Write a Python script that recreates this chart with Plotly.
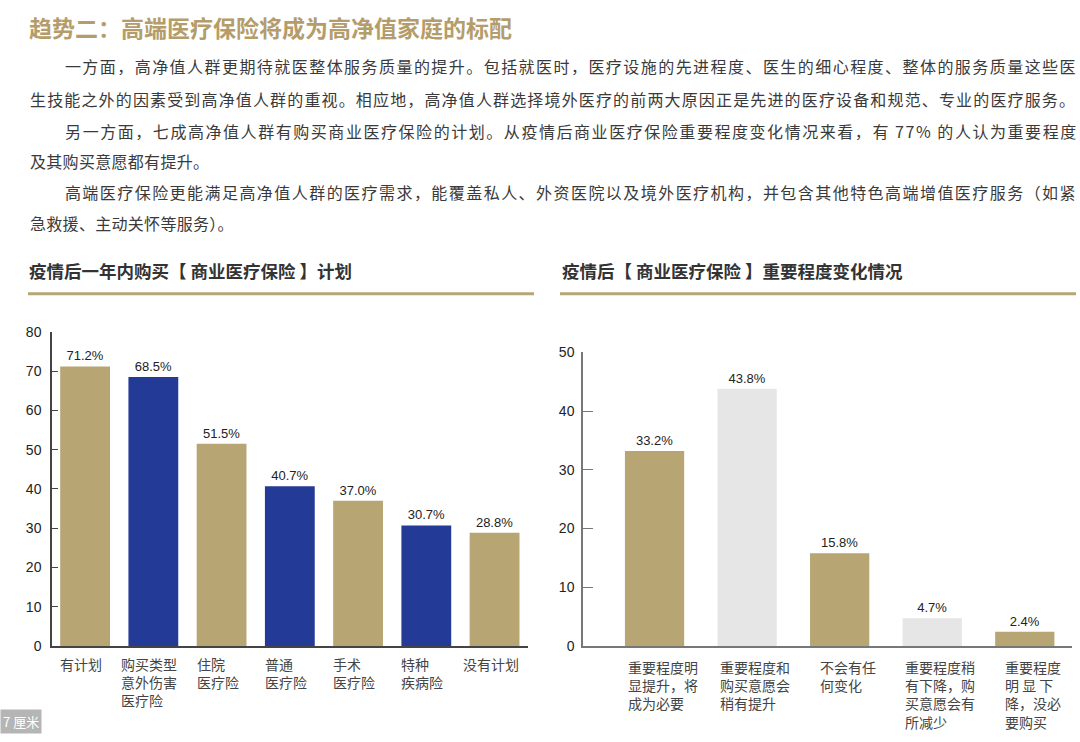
import plotly.graph_objects as go

# ---------------- data ----------------
page_title = "趋势二：高端医疗保险将成为高净值家庭的标配"
paragraph_lines = [
    "\u3000\u3000一方面，高净值人群更期待就医整体服务质量的提升。包括就医时，医疗设施的先进程度、医生的细心程度、整体的服务质量这些医",
    "生技能之外的因素受到高净值人群的重视。相应地，高净值人群选择境外医疗的前两大原因正是先进的医疗设备和规范、专业的医疗服务。",
    "\u3000\u3000另一方面，七成高净值人群有购买商业医疗保险的计划。从疫情后商业医疗保险重要程度变化情况来看，有 77% 的人认为重要程度",
    "及其购买意愿都有提升。",
    "\u3000\u3000高端医疗保险更能满足高净值人群的医疗需求，能覆盖私人、外资医院以及境外医疗机构，并包含其他特色高端增值医疗服务（如紧",
    "急救援、主动关怀等服务）。",
]

left_title = "疫情后一年内购买【 商业医疗保险 】计划"
left_categories = ["有计划", "购买类型意外伤害医疗险", "住院医疗险", "普通医疗险", "手术医疗险", "特种疾病险", "没有计划"]
left_tick_labels = ["有计划", "购买类型<br>意外伤害<br>医疗险", "住院<br>医疗险", "普通<br>医疗险",
                    "手术<br>医疗险", "特种<br>疾病险", "没有计划"]
left_values = [71.2, 68.5, 51.5, 40.7, 37.0, 30.7, 28.8]
left_ticks = [0, 10, 20, 30, 40, 50, 60, 70, 80]

right_title = "疫情后【 商业医疗保险 】重要程度变化情况"
right_categories = ["重要程度明显提升", "重要程度和购买意愿会稍有提升", "不会有任何变化",
                    "重要程度稍有下降", "重要程度明显下降"]
right_tick_labels = ["重要程度明<br>显提升，将<br>成为必要", "重要程度和<br>购买意愿会<br>稍有提升",
                     "不会有任<br>何变化", "重要程度稍<br>有下降，购<br>买意愿会有<br>所减少",
                     "重要程度<br>明 显 下<br>降，没必<br>要购买"]
right_values = [33.2, 43.8, 15.8, 4.7, 2.4]
right_ticks = [0, 10, 20, 30, 40, 50]

footer_text = "7 厘米"

# ---------------- styles ----------------
W, H = 1080, 742
TAN = "#b8a574"
BLUE = "#233a96"
LIGHT = "#e6e6e6"
TEXT = "#333333"
CJK = "Noto Sans CJK SC"
LAT = "Liberation Sans, Arial"

def py(p):
    return 1 - p / H

def px(p):
    return p / W

left_colors = [TAN if i % 2 == 0 else BLUE for i in range(len(left_values))]
right_colors = [TAN if i % 2 == 0 else LIGHT for i in range(len(right_values))]

fig = go.Figure()

fig.add_trace(go.Bar(
    x=left_categories, y=left_values, marker=dict(color=left_colors, line=dict(width=0)),
    width=0.73, text=[f"{v:.1f}%" for v in left_values], textposition="outside",
    textfont=dict(family=LAT, size=13, color="#222"), cliponaxis=False,
    xaxis="x", yaxis="y", showlegend=False, hoverinfo="skip",
))
fig.add_trace(go.Bar(
    x=right_categories, y=right_values, marker=dict(color=right_colors, line=dict(width=0)),
    width=0.64, text=[f"{v:.1f}%" for v in right_values], textposition="outside",
    textfont=dict(family=LAT, size=13, color="#222"), cliponaxis=False,
    xaxis="x2", yaxis="y2", showlegend=False, hoverinfo="skip",
))

axis_common = dict(showgrid=False, zeroline=False, fixedrange=True)

fig.update_layout(
    width=W, height=H, margin=dict(l=0, r=0, t=0, b=0),
    paper_bgcolor="white", plot_bgcolor="white",
    xaxis=dict(domain=[px(52), px(528)], range=[-0.485, 6.49], type="category",
               showticklabels=False, ticks="", showline=True, linecolor="#444", linewidth=1.5,
               anchor="y", **axis_common),
    yaxis=dict(domain=[py(652), py(331)], range=[0, 80], tickvals=left_ticks,
               ticks="inside", ticklen=6, tickcolor="#444", tickwidth=1.2,
               showline=True, linecolor="#444", linewidth=1.5, anchor="x",
               tickfont=dict(family=LAT, size=14, color="#222"), ticklabelstandoff=6,
               **axis_common),
    xaxis2=dict(domain=[px(583), px(1072)], range=[-0.773, 4.51], type="category",
                showticklabels=False, ticks="", showline=True, linecolor="#777", linewidth=1.5,
                anchor="y2", **axis_common),
    yaxis2=dict(domain=[py(652), py(352)], range=[0, 50], tickvals=right_ticks,
                ticks="inside", ticklen=10, tickcolor="#777", tickwidth=1.2,
                showline=True, linecolor="#777", linewidth=1.5, anchor="x2",
                tickfont=dict(family=LAT, size=14, color="#222"), ticklabelstandoff=4,
                **axis_common),
)

ann = []
# page title
ann.append(dict(text=f"<b>{page_title}</b>", x=px(27), y=py(19), xref="paper", yref="paper",
                xanchor="left", yanchor="middle", showarrow=False,
                font=dict(family=CJK, size=23, color="#b49d6a")))
# paragraph
para_y = [59, 93, 126, 156, 188, 220]
para_spacing = [1.45, 1.15, 1.55, 0.3, 1.45, 0.3]
for line, yy, sp in zip(paragraph_lines, para_y, para_spacing):
    ann.append(dict(text=f'<span style="letter-spacing:{sp}px">{line}</span>', x=px(28), y=py(yy),
                    xref="paper", yref="paper", xanchor="left", yanchor="middle",
                    showarrow=False, font=dict(family=CJK, size=16, color="#3a3a3a")))
# section titles
ann.append(dict(text=f"<b>{left_title}</b>", x=px(27), y=py(268), xref="paper", yref="paper",
                xanchor="left", yanchor="middle", showarrow=False,
                font=dict(family=CJK, size=17.5, color=TEXT)))
ann.append(dict(text=f"<b>{right_title}</b>", x=px(560), y=py(268), xref="paper", yref="paper",
                xanchor="left", yanchor="middle", showarrow=False,
                font=dict(family=CJK, size=17.5, color=TEXT)))
# category labels
for c, lab in zip(left_categories, left_tick_labels):
    ann.append(dict(text=lab, x=c, y=0, xref="x", yref="y", xanchor="center", yanchor="top",
                    yshift=-6, xshift=-4, align="left", showarrow=False,
                    font=dict(family=CJK, size=14, color="#444")))
for c, lab in zip(right_categories, right_tick_labels):
    ann.append(dict(text=lab, x=c, y=0, xref="x2", yref="y2", xanchor="center", yanchor="top",
                    yshift=-9, xshift=8, align="left", showarrow=False,
                    font=dict(family=CJK, size=14, color="#444")))
# footer
ann.append(dict(text=footer_text, x=0, y=0, xref="paper", yref="paper", xanchor="left",
                yanchor="bottom", showarrow=False, bgcolor="#b5b5b5", borderpad=2,
                font=dict(family=CJK, size=13, color="white")))
fig.update_layout(annotations=ann)

# header underlines
fig.update_layout(shapes=[
    dict(type="line", xref="paper", yref="paper", x0=px(28), x1=px(534), y0=py(292), y1=py(292),
         line=dict(color=TAN, width=3)),
    dict(type="line", xref="paper", yref="paper", x0=px(560), x1=px(1076), y0=py(292), y1=py(292),
         line=dict(color=TAN, width=3)),
])

fig.write_html("out.html")
